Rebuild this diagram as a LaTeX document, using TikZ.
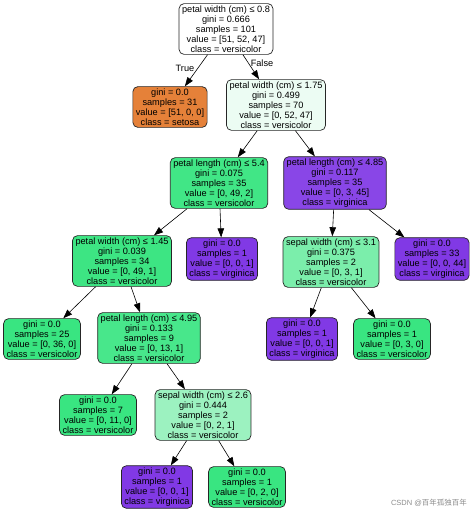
\documentclass[tikz,border=0pt]{standalone}
\usepackage{fontspec}
\setmainfont{Liberation Sans}
\newfontfamily\cjk{Noto Sans CJK SC}
\usetikzlibrary{arrows.meta}

\definecolor{setosa}{HTML}{E58139}
\definecolor{versi}{HTML}{39E581}
\definecolor{virgi}{HTML}{8139E5}

\begin{document}
\begin{tikzpicture}[
    x=1pt, y=-1pt,
    tn/.style={
        draw=black!85, line width=0.7pt, rounded corners=5pt,
        align=center, font=\fontsize{9.2}{10}\selectfont,
        inner xsep=3pt, inner ysep=2pt
    },
    edg/.style={-{Triangle[length=9pt, width=6.5pt]}, line width=0.6pt},
    lbl/.style={font=\fontsize{9.2}{10}\selectfont},
]
\useasboundingbox (0,0) rectangle (474,512);

% --- root ---
\node[tn, fill=white] (N0) at (226,29) {
    petal width (cm) ≤ 0.8\\ gini = 0.666\\ samples = 101\\
    value = [51, 52, 47]\\ class = versicolor};

% --- level 1 ---
\node[tn, fill=setosa] (N1) at (170,107) {
    gini = 0.0\\ samples = 31\\ value = [51, 0, 0]\\ class = setosa};
\node[tn, fill={rgb,255:red,236;green,252;blue,243}] (N2) at (276,105) {
    petal width (cm) ≤ 1.75\\ gini = 0.499\\ samples = 70\\
    value = [0, 52, 47]\\ class = versicolor};

% --- level 2 ---
\node[tn, fill={rgb,255:red,65;green,230;blue,134}] (N3) at (219,183) {
    petal length (cm) ≤ 5.4\\ gini = 0.075\\ samples = 35\\
    value = [0, 49, 2]\\ class = versicolor};
\node[tn, fill={rgb,255:red,137;green,70;blue,231}] (N4) at (335,183) {
    petal length (cm) ≤ 4.85\\ gini = 0.117\\ samples = 35\\
    value = [0, 3, 45]\\ class = virginica};

% --- level 3 ---
\node[tn, fill={rgb,255:red,61;green,229;blue,131}] (N5) at (122,261) {
    petal width (cm) ≤ 1.45\\ gini = 0.039\\ samples = 34\\
    value = [0, 49, 1]\\ class = versicolor};
\node[tn, fill=virgi] (N6) at (222,259) {
    gini = 0.0\\ samples = 1\\ value = [0, 0, 1]\\ class = virginica};
\node[tn, fill={rgb,255:red,123;green,238;blue,171}] (N7) at (331,262) {
    sepal width (cm) ≤ 3.1\\ gini = 0.375\\ samples = 2\\
    value = [0, 3, 1]\\ class = versicolor};
\node[tn, fill=virgi] (N8) at (432,259) {
    gini = 0.0\\ samples = 33\\ value = [0, 0, 44]\\ class = virginica};

% --- level 4 ---
\node[tn, fill=versi] (N9) at (42,339) {
    gini = 0.0\\ samples = 25\\ value = [0, 36, 0]\\ class = versicolor};
\node[tn, fill={rgb,255:red,72;green,231;blue,139}] (N10) at (149,338) {
    petal length (cm) ≤ 4.95\\ gini = 0.133\\ samples = 9\\
    value = [0, 13, 1]\\ class = versicolor};
\node[tn, fill=virgi] (N11) at (302,339) {
    gini = 0.0\\ samples = 1\\ value = [0, 0, 1]\\ class = virginica};
\node[tn, fill=versi] (N12) at (392,339) {
    gini = 0.0\\ samples = 1\\ value = [0, 3, 0]\\ class = versicolor};

% --- level 5 ---
\node[tn, fill=versi] (N13) at (98,415) {
    gini = 0.0\\ samples = 7\\ value = [0, 11, 0]\\ class = versicolor};
\node[tn, fill={rgb,255:red,156;green,242;blue,192}] (N14) at (203,415) {
    sepal width (cm) ≤ 2.6\\ gini = 0.444\\ samples = 2\\
    value = [0, 2, 1]\\ class = versicolor};

% --- level 6 ---
\node[tn, fill=virgi] (N15) at (157,487) {
    gini = 0.0\\ samples = 1\\ value = [0, 0, 1]\\ class = virginica};
\node[tn, fill=versi] (N16) at (247,487) {
    gini = 0.0\\ samples = 1\\ value = [0, 2, 0]\\ class = versicolor};

% --- edges ---
\draw[edg] (N0) -- (N1);
\draw[edg] (N0) -- (N2);
\node[lbl] (T) at (185,68) {True};
\node[lbl] (F) at (262,63) {False};
\foreach \a/\b in {N2/N3, N2/N4, N3/N5, N3/N6, N4/N7, N4/N8,
                   N5/N9, N5/N10, N7/N11, N7/N12, N10/N13, N10/N14,
                   N14/N15, N14/N16}
    \draw[edg] (\a) -- (\b);

% --- watermark ---
\node[font=\fontsize{7.5}{8}\selectfont, text=black!45] (W) at (429,503)
    {CSDN @{\cjk 百年孤独百年}};

\end{tikzpicture}
\end{document}
